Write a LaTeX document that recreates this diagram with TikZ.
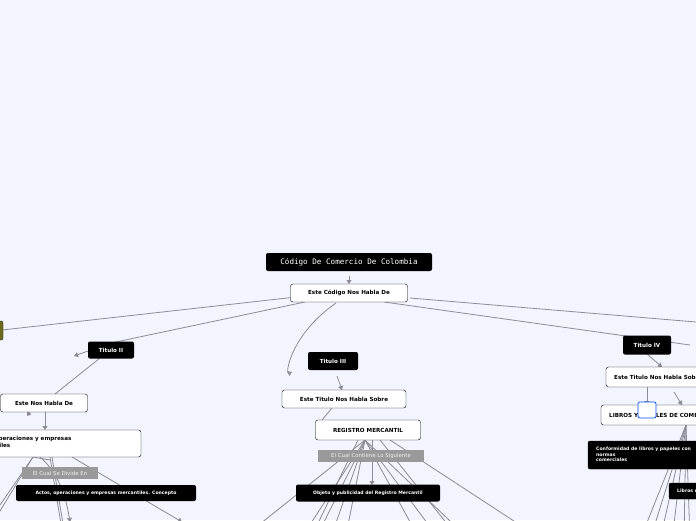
\documentclass[tikz,border=0pt]{standalone}
\usepackage{fontspec}
\setmainfont{DejaVu Sans}
\newfontfamily\monof{DejaVu Sans Mono}
\usetikzlibrary{arrows.meta}
\definecolor{bg}{HTML}{F2F4FE}
\definecolor{ln}{HTML}{8C8C96}
\definecolor{olive}{HTML}{6B6A1E}
\tikzset{
 blk/.style={fill=black,text=white,rounded corners=2pt,font=\bfseries\fontsize{5.6}{6.5}\selectfont,inner sep=2.5pt},
 wht/.style={fill=white,draw=black,rounded corners=2.5pt,font=\bfseries\fontsize{5.6}{6.5}\selectfont,inner sep=3pt},
 gry/.style={fill=gray!80,text=white!90!gray,font=\fontsize{5.4}{6}\selectfont,inner sep=2pt},
 con/.style={draw=ln,line width=0.8pt},
 arr/.style={con,-{Triangle[length=4pt,width=5pt]}}
}
\begin{document}
\begin{tikzpicture}[x=1pt,y=-1pt]
\useasboundingbox (0,0) rectangle (696,520);
\fill[bg] (0,0) rectangle (696,520);
\begin{scope}
\clip (0,0) rectangle (696,520);
\coordinate (olv) at (2,330);
\coordinate (t2a) at (74,356);
\coordinate (e1a) at (27,416);
\coordinate (t3a) at (292,372);
% edges
\draw[con] (olv) -- (296,297);
\draw[con] (111,343) -- (305,302);
\draw[arr] (336,303) .. controls (290,335) and (285,375) .. (t3a);
\draw[con] (384,302) -- (690,345);
\draw[con] (410,298) -- (696,322);
\draw[arr] (349,276) -- (349,284);
\draw[arr] (88,351) -- (t2a);
\draw[con] (100,358) -- (55,394);
\draw[arr] (30,412) -- (e1a);
\draw[arr] (45,412) -- (45,430);
\draw[arr] (337,376) -- (342,390);
\draw[con] (332,408) -- (322,420);
\draw[arr] (647,354) -- (662,367);
\draw[arr] (647,387) -- (647,405);
\draw[arr] (674,392) -- (682,405);
% rays from big left node
\foreach \ex/\ey in {0/505,-30/560,50/460} \draw[con] (33,457) -- (\ex,\ey);
\draw[arr] (40,457) .. controls (55,470) and (65,490) .. (70,522);
\draw[con] (50,457) -- (62,530);
\draw[con] (52,457) -- (64,530);
\draw[arr] (72,457) -- (182,522);
% rays from registro
\foreach \ex in {240,300,315,330,345,420,440,470} \draw[con] (365,440) -- (\ex,540);
\draw[con] (358,440) -- (310,540);
\draw[con] (380,440) -- (460,540);
\draw[con] (390,440) -- (520,525);
\draw[arr] (372,440) -- (372,485);
% rays from libros
\foreach \ex in {640,650,660,672,684,690} \draw[con] (686,425) -- (\ex,540);
% nodes
\node[blk,font=\monof\fontsize{7.6}{9}\selectfont,minimum width=166pt,minimum height=18pt] (root) at (349,262) {Código De Comercio De Colombia};
\node[wht,minimum width=117pt,minimum height=18pt] (este) at (349,293) {Este Código Nos Habla De};
\draw[fill=olive,draw=black!70!olive,rounded corners=2pt] (-10,321) rectangle (3,340);
\node[blk,minimum width=46pt,minimum height=17pt] (t2) at (111,350) {Titulo II};
\node[wht,minimum width=87pt,minimum height=18pt] (enhd) at (44,403) {Este Nos Habla De};
\draw[fill=white,draw=black,rounded corners=2.5pt] (-60,430) rectangle (141,457);
\node[anchor=north west,align=left,font=\bfseries\fontsize{5.6}{6.8}\selectfont,inner sep=0pt] (actos) at (-27,436) {Actos, operaciones y empresas\\mercantiles};
\node[gry,minimum width=76pt,minimum height=12pt] (div) at (60,473) {El Cual Se Divide En};
\node[blk,font=\bfseries\fontsize{4.6}{5.5}\selectfont,minimum width=180pt,minimum height=16pt] (conc) at (106,493) {Actos, operaciones y empresas mercantiles. Concepto};
\node[blk,minimum width=50pt,minimum height=18pt] (t3) at (333,361) {Titulo III};
\node[wht,minimum width=124pt,minimum height=18pt] (ets) at (344,399) {Este Titulo Nos Habla Sobre};
\node[wht,minimum width=105pt,minimum height=20pt] (reg) at (368,430) {REGISTRO MERCANTIL};
\node[gry,minimum width=106pt,minimum height=12pt] (cont) at (371,456) {El Cual Contiene Lo Siguiente};
\node[blk,font=\bfseries\fontsize{4.6}{5.5}\selectfont,minimum width=144pt,minimum height=17pt] (obj) at (368,493) {Objeto y publicidad del Registro Mercantil};
\node[blk,minimum width=48pt,minimum height=19pt] (t4) at (647,345) {Titulo IV};
\draw[fill=white,draw=black,rounded corners=2.5pt] (606,367) rectangle (720,387);
\node[anchor=west,font=\bfseries\fontsize{5.6}{6.5}\selectfont,inner sep=0pt] (et4) at (614,377) {Este Titulo Nos Habla Sobre};
\draw[fill=white,draw=black,rounded corners=2.5pt] (601,405) rectangle (720,425);
\node[anchor=west,font=\bfseries\fontsize{5.6}{6.5}\selectfont,inner sep=0pt] (lib) at (609,415) {LIBROS Y PAPELES DE COMERCIO};
\draw[fill=white,draw=blue!70!cyan,line width=0.7pt,rounded corners=2pt] (638,402) rectangle (656,418);
\draw[fill=black,rounded corners=2pt] (588,441) rectangle (720,469);
\node[anchor=north west,align=left,text=white,font=\bfseries\fontsize{4.6}{5.6}\selectfont,inner sep=0pt] (conf) at (596,447) {Conformidad de libros y papeles con\\normas\\comerciales};
\draw[fill=black,rounded corners=2pt] (669,483) rectangle (720,499);
\node[anchor=west,text=white,font=\bfseries\fontsize{4.6}{5.6}\selectfont,inner sep=0pt] (libr) at (677,491) {Libros de comercio};
\end{scope}
\end{tikzpicture}
\end{document}
